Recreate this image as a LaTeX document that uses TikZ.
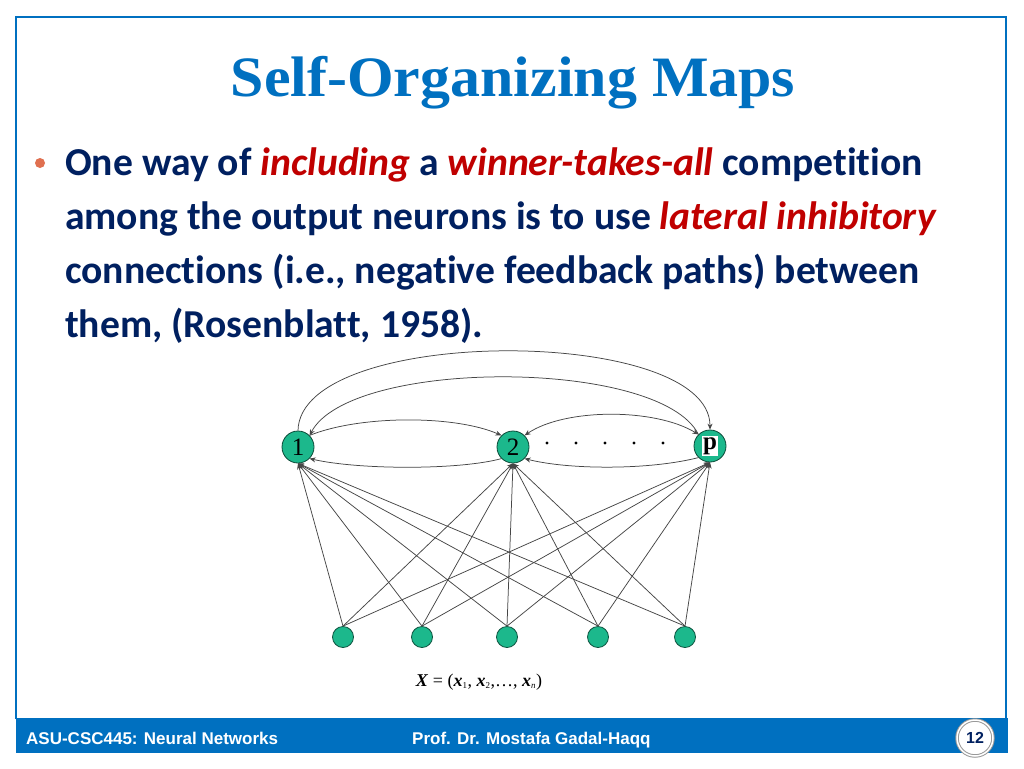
\documentclass[tikz,border=0pt]{standalone}
\usepackage{fontspec}
\setmainfont{Carlito}[Ligatures=NoCommon]
\newfontfamily\titlefont{Liberation Serif}
\newfontfamily\footfont{Liberation Sans}
\usetikzlibrary{arrows.meta}
\definecolor{frameblue}{RGB}{0,112,192}
\definecolor{navy}{RGB}{0,32,96}
\definecolor{darkred}{RGB}{192,0,0}
\definecolor{neuron}{RGB}{28,184,140}
\definecolor{bulletor}{RGB}{224,112,80}
\definecolor{wire}{RGB}{70,70,70}
\tikzset{
 outn/.style={circle, draw=black!60!neuron, fill=neuron, line width=0.8pt, minimum size=32pt, inner sep=0pt, font=\titlefont\fontsize{25}{25}\selectfont},
 inn/.style={circle, draw=black!55!neuron, fill=neuron, line width=0.8pt, minimum size=21pt, inner sep=0pt},
 wireline/.style={draw=wire, line width=0.75pt},
 tip/.style={-{Stealth[length=6pt,width=5pt]}},
 bothtips/.style={{Stealth[length=6pt,width=5pt]}-{Stealth[length=6pt,width=5pt]}},
 bodyline/.style={anchor=base west, inner sep=0pt, text=navy, font=\fontsize{39.6}{39.6}\selectfont\bfseries},
 foottext/.style={anchor=base west, inner sep=0pt, text=white, font=\footfont\bfseries\fontsize{17}{17}\selectfont},
}
\newcommand{\hl}[1]{\textcolor{darkred}{\itshape #1}}
\newcommand{\subs}[1]{\textsubscript{\fontsize{9}{9}\selectfont #1}}
\begin{document}
\begin{tikzpicture}[x=1pt,y=-1pt]
\useasboundingbox (0,0) rectangle (1024,768);
\fill[white] (0,0) rectangle (1024,768);
% frame
\draw[frameblue, line width=2pt] (16,719) -- (16,17) -- (1006,17) -- (1006,719);
\fill[frameblue] (16,718) rectangle (1008,753);
% title
\node[anchor=base, inner sep=0pt, text=frameblue, font=\titlefont\bfseries\fontsize{56}{56}\selectfont] (title) at (513,96) {\scalebox{1.07}[1.02]{Self-Organizing Maps}};
% bullet text
\node[circle, fill=bulletor, minimum size=10pt, inner sep=0pt] (bullet) at (40,163) {};
\node[bodyline] (l1) at (65,175) {One way of \hl{including} a \hl{winner-takes-all} competition};
\node[bodyline] (l2) at (65,229) {among the output neurons is to use \hl{lateral inhibitory}};
\node[bodyline] (l3) at (65,283) {connections (i.e., negative feedback paths) between};
\node[bodyline] (l4) at (65,337) {them, (Rosenblatt, 1958).};
% neurons
\node[outn] (o1) at (298,447) {1};
\node[outn] (o2) at (513,447) {2};
\node[outn] (op) at (710,446) {\fboxsep=1pt\colorbox{white}{\bfseries p}};
\node[inn] (i1) at (343,637) {};
\node[inn] (i2) at (422,637) {};
\node[inn] (i3) at (507,637) {};
\node[inn] (i4) at (598,637) {};
\node[inn] (i5) at (685,637) {};
\foreach \o in {o1,o2,op}
  \foreach \i in {i1,i2,i3,i4,i5}
    \draw[wireline,tip] (\i.north) -- (\o.south);
% lateral connections
\draw[wireline,tip] (o1.north) .. controls (300,325) and (710,325) .. (op.north);
\draw[wireline,tip] (op.135) .. controls (660,358) and (350,358) .. (o1.45);
\draw[wireline,tip] (o1.45) .. controls (360,415) and (455,415) .. (o2.135);
\draw[wireline,bothtips] (o2.45) .. controls (565,408) and (655,408) .. (op.135);
\draw[wireline,tip] (o2.225) .. controls (460,470) and (360,470) .. (o1.-45);
\draw[wireline,tip] (op.225) .. controls (650,470) and (570,470) .. (o2.-45);
\foreach \x in {547,576,605,634,663} \fill (\x,443) circle (1.6);
% formula
\node[anchor=base, inner sep=0pt, font=\titlefont\fontsize{18}{18}\selectfont] (formula) at (479,686)
  {\textbf{\textit{X}} = (\textbf{\textit{x}}\subs{1}, \textbf{\textit{x}}\subs{2},\ldots, \textbf{\textit{x}}\subs{\textit{n}})};
% footer
\node[foottext] (f1) at (26,744) {ASU-CSC445: Neural Networks};
\node[foottext] (f2) at (412,744) {Prof. Dr. Mostafa Gadal-Haqq};
\node[circle, fill=white, draw=gray!80, double=white, double distance=1.5pt, line width=1pt, minimum size=36pt, inner sep=0pt, text=navy, font=\footfont\bfseries\fontsize{16}{16}\selectfont] (badge) at (975,738) {12};
\end{tikzpicture}
\end{document}
